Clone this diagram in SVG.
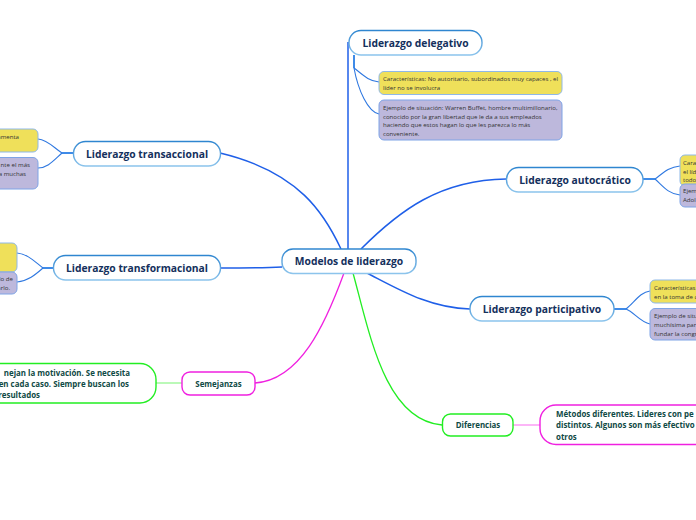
<svg xmlns="http://www.w3.org/2000/svg" width="696" height="520" viewBox="0 0 696 520">
<defs>
<linearGradient id="edge" x1="0" y1="0" x2="0" y2="1"><stop offset="0" stop-color="#2f86d0"/><stop offset="1" stop-color="#8cc4ec"/></linearGradient>
</defs>
<style>
text{font-family:"Open Sans","Noto Sans",sans-serif;}
.m{fill:#fff;stroke:url(#edge);stroke-width:1.4;}
.g{fill:#fff;stroke:#22ee22;stroke-width:1.4;}
.k{fill:#fff;stroke:#f020e0;stroke-width:1.4;}
.t{font-size:10.300px;font-weight:700;fill:#14305c;text-anchor:middle;}
.s{font-size:7.900px;font-weight:700;fill:#0f4a45;}
.c{font-size:6.100px;fill:#333;}
.y{fill:#efe05a;stroke:#8fb8e8;stroke-width:1;}
.p{fill:#bdb8dc;stroke:#7fa4e6;stroke-width:1;}
.bl{fill:none;stroke:#1f5fe8;stroke-width:1.500;}
.bl2{fill:none;stroke:#2f78e0;stroke-width:1.100;}
.bar{fill:none;stroke:#3f8be8;stroke-width:2;}
.mg{fill:none;stroke:#f020e0;stroke-width:1.300;}
.gr{fill:none;stroke:#22ee22;stroke-width:1.300;}
</style>
<g id="connectors">
<path class="bl" d="M348 249V42"/>
<path class="bl" d="M341 249C325 215 300 172 220 153"/>
<path class="bl" d="M282 267C262 268 240 268 220 268"/>
<path class="bl" d="M361 249C400 210 440 180 506 179"/>
<path class="bl" d="M367 273C400 290 430 308 470 309"/>
<path class="mg" d="M344 273C325 325 300 380 255 383"/>
<path class="gr" d="M353 273C370 335 385 420 442 425"/>
<path class="bar" d="M354 55V68"/>
<path class="bl2" d="M354 68C362 74 368 81 379 82"/>
<path class="bl2" d="M354 68C358 90 368 112 379 114"/>
<path class="bar" d="M643 179H655"/>
<path class="bl2" d="M655 179C662 174 668 167 680 166"/>
<path class="bl2" d="M655 179C662 185 668 194 680 195"/>
<path class="bar" d="M614 309H626"/>
<path class="bl2" d="M626 309C634 303 640 292 650 291"/>
<path class="bl2" d="M626 309C634 312 640 322 650 324"/>
<path class="bar" d="M73 153H62"/>
<path class="bl2" d="M62 153C54 148 48 140 38 139"/>
<path class="bl2" d="M62 153C54 160 48 168 38 168"/>
<path class="bar" d="M53 268H43"/>
<path class="bl2" d="M43 268C35 262 28 254 17 253"/>
<path class="bl2" d="M43 268C35 275 28 281 17 282"/>
<path d="M513 425H540" fill="none" stroke="#fb9cf5" stroke-width="1.5"/>
<path d="M156 383H182" fill="none" stroke="#a5f7a0" stroke-width="1.5"/>
</g>
<g id="node-center"><rect class="m" x="282" y="249" width="134" height="24.500" rx="11"/><text class="t" x="349" y="265">Modelos de liderazgo</text></g>
<g id="node-delegativo"><rect class="m" x="349" y="30.500" width="133" height="24.500" rx="12"/><text class="t" x="415.500" y="47">Liderazgo delegativo</text></g>
<g id="node-del-car"><rect class="y" x="379" y="71.500" width="183" height="23" rx="5"/><text class="c"><tspan x="383" y="81">Características: No autoritario, subordinados muy capaces , el</tspan><tspan x="383" y="90">líder no se involucra</tspan></text></g>
<g id="node-del-ej"><rect class="p" x="379" y="100" width="183" height="40" rx="5"/><text class="c"><tspan x="383" y="110">Ejemplo de situación: Warren Buffet, hombre multimillonario,</tspan><tspan x="383" y="118.500">conocido por la gran libertad que le da a sus empleados</tspan><tspan x="383" y="127">haciendo que estos hagan lo que les parezca lo más</tspan><tspan x="383" y="135.500">conveniente.</tspan></text></g>
<g id="node-autocratico"><rect class="m" x="506.500" y="167.500" width="136.500" height="24.500" rx="12"/><text class="t" x="575" y="184">Liderazgo autocrático</text></g>
<g id="node-aut-car"><rect class="y" x="680" y="155" width="40" height="31" rx="5"/><text class="c"><tspan x="683" y="165">Cara</tspan><tspan x="683" y="173.500">el líd</tspan><tspan x="683" y="182">todo</tspan></text></g>
<g id="node-aut-ej"><rect class="p" x="680" y="184" width="40" height="23" rx="5"/><text class="c"><tspan x="683" y="193">Ejem</tspan><tspan x="683" y="202">Adol</tspan></text></g>
<g id="node-participativo"><rect class="m" x="470" y="296.500" width="144" height="24.500" rx="12"/><text class="t" x="542" y="313">Liderazgo participativo</text></g>
<g id="node-par-car"><rect class="y" x="650" y="280" width="70" height="23" rx="5"/><text class="c"><tspan x="654" y="290">Características s</tspan><tspan x="654" y="299">en la toma de d</tspan></text></g>
<g id="node-par-ej"><rect class="p" x="650" y="308.500" width="70" height="31.500" rx="5"/><text class="c"><tspan x="654" y="318">Ejemplo de situ</tspan><tspan x="654" y="327">muchísima part</tspan><tspan x="654" y="335.500">fundar la congr</tspan></text></g>
<g id="node-diferencias"><rect class="g" x="442.500" y="414" width="70.500" height="22" rx="8"/><text class="s" x="478" y="428" text-anchor="middle">Diferencias</text></g>
<g id="node-dif-txt"><rect class="k" x="540" y="405" width="190" height="39.500" rx="16"/><text class="s"><tspan x="556" y="417">Métodos  diferentes. Lideres con pe</tspan><tspan x="556" y="428">distintos. Algunos son más efectivo</tspan><tspan x="556" y="439.500">otros</tspan></text></g>
<g id="node-transaccional"><rect class="m" x="73.500" y="141.500" width="147" height="24.500" rx="12"/><text class="t" x="147" y="157.500">Liderazgo transaccional</text></g>
<g id="node-tra-car"><rect class="y" x="-40" y="129" width="78" height="23" rx="5"/><text class="c" text-anchor="end"><tspan x="19" y="138.500">amenta</tspan></text></g>
<g id="node-tra-ej"><rect class="p" x="-40" y="157.500" width="78" height="31.500" rx="5"/><text class="c" text-anchor="end"><tspan x="30" y="167">nte el más</tspan><tspan x="26" y="175.500">a muchas</tspan></text></g>
<g id="node-transformacional"><rect class="m" x="53.500" y="255.500" width="167" height="24.500" rx="12"/><text class="t" x="137" y="272">Liderazgo transformacional</text></g>
<g id="node-trf-car"><rect class="y" x="-40" y="243" width="57" height="29" rx="5"/></g>
<g id="node-trf-ej"><rect class="p" x="-40" y="272" width="57" height="22" rx="5"/><text class="c" text-anchor="end"><tspan x="13" y="281">lo de</tspan><tspan x="10" y="289.500">arlo.</tspan></text></g>
<g id="node-semejanzas"><rect class="k" x="182" y="372" width="73" height="23" rx="8"/><text class="s" x="218.500" y="386.500" text-anchor="middle">Semejanzas</text></g>
<g id="node-sem-txt"><rect class="g" x="-40" y="363.500" width="196" height="39.500" rx="16"/><text class="s" text-anchor="end"><tspan x="130" y="375.500">nejan la motivación. Se necesita</tspan><tspan x="129" y="386.500">en cada caso. Siempre buscan los</tspan><tspan x="40" y="398">resultados</tspan></text></g>
</svg>
